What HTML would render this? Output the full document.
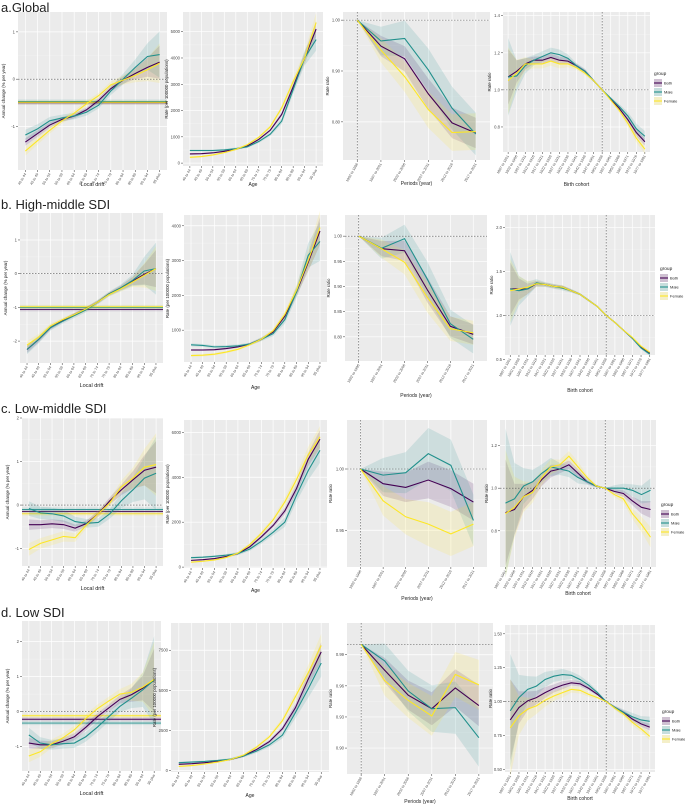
<!DOCTYPE html>
<html><head><meta charset="utf-8"><style>
html,body{margin:0;padding:0;background:#fff;}
svg{display:block;font-family:"Liberation Sans",sans-serif;}
</style></head><body>
<svg id="fig" width="685" height="807" viewBox="0 0 685 807" xmlns="http://www.w3.org/2000/svg"></svg>
<script>
const ageCats = ["40 to 44","45 to 49","50 to 54","55 to 59","60 to 64","65 to 69","70 to 74","75 to 79","80 to 84","85 to 89","90 to 94","95 plus"];
const periodCats = ["1992 to 1996","1997 to 2001","2002 to 2006","2007 to 2011","2012 to 2016","2017 to 2021"];
const cohortCats = ["1897 to 1901","1902 to 1906","1907 to 1911","1912 to 1916","1917 to 1921","1922 to 1926","1927 to 1931","1932 to 1936","1937 to 1941","1942 to 1946","1947 to 1951","1952 to 1956","1957 to 1961","1962 to 1966","1967 to 1971","1972 to 1976","1977 to 1981"];
const groups = ["Both","Male","Female"];

// a. Global
const a1Both=[-1.33,-1.15,-0.97,-0.85,-0.78,-0.65,-0.45,-0.2,-0.02,0.12,0.25,0.36];
const a1Male=[-1.18,-1.05,-0.88,-0.82,-0.78,-0.7,-0.55,-0.25,0,0.25,0.48,0.52];
const a1Female=[-1.52,-1.3,-1.08,-0.88,-0.72,-0.52,-0.35,-0.12,-0.02,0.08,0.2,0.34];
const a1Band=[0.08,0.07,0.06,0.05,0.05,0.05,0.05,0.06,0.08,0.12,0.2,0.35];
const a1Net=[-0.5,-0.47,-0.49];
const a2Both=[350,360,390,450,530,650,900,1250,1850,2900,4000,5100];
const a2Male=[480,480,480,500,550,620,820,1100,1600,2800,4000,4700];
const a2Female=[220,250,310,400,520,700,980,1380,2100,3100,4000,5350];
const a2Band=[30,30,30,30,30,30,40,50,80,120,200,300];
const a3Both=[1.0,0.949,0.924,0.855,0.798,0.778];
const a3Male=[1.0,0.959,0.964,0.902,0.827,0.776];
const a3Female=[1.0,0.941,0.889,0.824,0.779,0.781];
const a3Band=[0,0.02,0.025,0.03,0.03,0.03];
const a4Both=[1.07,1.1,1.14,1.16,1.16,1.175,1.16,1.155,1.13,1.1,1.05,1.0,0.95,0.9,0.84,0.77,0.72];
const a4Male=[1.07,1.075,1.13,1.16,1.18,1.2,1.19,1.17,1.13,1.1,1.05,1.0,0.955,0.91,0.86,0.79,0.75];
const a4Female=[1.05,1.09,1.14,1.14,1.14,1.155,1.14,1.14,1.12,1.09,1.05,1.0,0.945,0.89,0.82,0.74,0.68];
const a4Band=[0.15,0.06,0.03,0.02,0.02,0.02,0.02,0.015,0.01,0.01,0.005,0,0.005,0.01,0.015,0.02,0.02];
// b. High-middle SDI
const b1Both=[-2.25,-1.95,-1.6,-1.4,-1.22,-1.05,-0.85,-0.6,-0.42,-0.22,-0.02,0.15];
const b1Male=[-2.25,-1.95,-1.6,-1.42,-1.25,-1.08,-0.85,-0.6,-0.42,-0.2,0.08,0.15];
const b1Female=[-2.12,-1.88,-1.55,-1.37,-1.22,-1.05,-0.85,-0.62,-0.45,-0.25,-0.05,0.15];
const b1Band=[0.1,0.08,0.06,0.05,0.05,0.05,0.05,0.05,0.07,0.12,0.3,0.55];
const b1Net=[-1.06,-1.0,-0.98];
const b2Both=[430,430,440,470,520,600,740,950,1400,2100,2950,3850];
const b2Male=[580,560,520,530,550,600,740,900,1300,2100,3150,3550];
const b2Female=[270,280,310,370,450,580,740,980,1450,2150,3000,3950];
const b2Band=[30,30,30,30,30,30,40,50,80,120,250,400];
const b3Both=[1.0,0.975,0.971,0.893,0.821,0.805];
const b3Male=[1.0,0.976,0.995,0.914,0.826,0.795];
const b3Female=[1.0,0.975,0.948,0.878,0.816,0.808];
const b3Band=[0,0.015,0.02,0.025,0.02,0.02];
const b4Both=[1.3,1.3,1.3,1.36,1.35,1.33,1.32,1.28,1.24,1.17,1.1,1.0,0.92,0.83,0.74,0.64,0.57];
const b4Male=[1.3,1.28,1.3,1.37,1.35,1.33,1.31,1.28,1.24,1.17,1.1,1.0,0.92,0.83,0.74,0.63,0.56];
const b4Female=[1.28,1.3,1.32,1.36,1.35,1.33,1.32,1.28,1.24,1.17,1.1,1.0,0.92,0.83,0.75,0.65,0.58];
const b4Band=[0.3,0.12,0.06,0.03,0.02,0.02,0.02,0.015,0.01,0.01,0.005,0,0.005,0.005,0.01,0.01,0.015];
// c. Low-middle SDI
const c1Both=[-0.45,-0.45,-0.43,-0.45,-0.53,-0.42,-0.2,0.1,0.35,0.58,0.8,0.87];
const c1Male=[-0.08,-0.18,-0.2,-0.25,-0.38,-0.42,-0.4,-0.2,0.1,0.35,0.62,0.73];
const c1Female=[-1.02,-0.88,-0.8,-0.72,-0.75,-0.45,-0.2,0.05,0.42,0.62,0.87,0.93];
const c1Band=[0.12,0.1,0.1,0.1,0.08,0.07,0.07,0.08,0.12,0.2,0.35,0.6];
const c1Net=[-0.15,-0.1,-0.2];
const c2Both=[300,330,380,470,600,900,1350,1850,2500,3500,4800,5700];
const c2Male=[420,440,480,530,600,800,1150,1550,2000,3200,4300,5200];
const c2Female=[220,260,320,430,620,1000,1500,2100,2900,3900,5000,5800];
const c2Band=[30,30,30,40,50,60,80,100,150,200,300,400];
const c3Both=[1.0,0.988,0.985,0.991,0.984,0.973];
const c3Male=[1.0,0.995,0.997,1.0125,1.003,0.958];
const c3Female=[1.0,0.974,0.961,0.955,0.947,0.955];
const c3Band=[0,0.01,0.012,0.015,0.015,0.015];
const c4Both=[0.885,0.9,0.96,0.99,1.04,1.08,1.09,1.11,1.07,1.03,1.01,1.0,0.985,0.975,0.94,0.91,0.9];
const c4Male=[0.93,0.95,1.01,1.03,1.07,1.1,1.09,1.08,1.05,1.03,1.01,1.0,1.0,1.0,0.99,0.97,0.99];
const c4Female=[0.88,0.91,0.96,0.98,1.05,1.1,1.11,1.15,1.1,1.05,1.01,1.0,0.97,0.95,0.88,0.83,0.77];
const c4Band=[0.25,0.12,0.06,0.04,0.03,0.03,0.02,0.02,0.02,0.01,0.005,0,0.01,0.015,0.02,0.03,0.04];
// d. Low SDI
const d1Both=[-0.9,-0.95,-0.95,-0.85,-0.72,-0.45,-0.15,0.1,0.35,0.48,0.67,0.9];
const d1Male=[-0.67,-0.9,-0.95,-0.92,-0.9,-0.72,-0.45,-0.15,0.15,0.38,0.62,0.9];
const d1Female=[-1.27,-1.15,-0.92,-0.75,-0.52,-0.2,0.08,0.3,0.5,0.55,0.7,0.92];
const d1Band=[0.15,0.12,0.1,0.1,0.1,0.1,0.1,0.1,0.12,0.2,0.35,0.9];
const d1Net=[-0.22,-0.33,-0.12];
const d2Both=[380,420,480,560,680,900,1300,1800,2600,3900,5700,7400];
const d2Male=[480,520,560,620,700,900,1200,1600,2200,3600,5100,6700];
const d2Female=[250,300,400,520,680,950,1450,2100,3100,4600,6100,7800];
const d2Band=[40,40,40,40,50,60,80,100,150,250,400,600];
const d3Both=[1.0,0.975,0.951,0.938,0.958,0.941];
const d3Male=[1.0,0.984,0.955,0.938,0.939,0.910];
const d3Female=[1.0,0.965,0.946,0.931,0.971,0.961];
const d3Band=[0,0.012,0.014,0.016,0.018,0.02];
const d4Both=[0.864,0.956,1.005,1.029,1.066,1.097,1.121,1.138,1.131,1.097,1.053,1.0,0.956,0.92,0.871,0.835,0.811];
const d4Male=[0.932,1.029,1.09,1.114,1.163,1.187,1.199,1.194,1.163,1.121,1.066,1.0,0.956,0.92,0.888,0.864,0.854];
const d4Female=[0.806,0.896,0.944,0.968,1.01,1.041,1.066,1.09,1.083,1.053,1.029,1.0,0.951,0.908,0.847,0.799,0.743];
const d4Band=[0.3,0.12,0.07,0.05,0.04,0.03,0.03,0.02,0.02,0.015,0.01,0,0.01,0.015,0.02,0.02,0.025];

const COLORS={Both:"#440154",Male:"#21908c",Female:"#fde725"};
const BANDMUL={Both:1,Male:1.4,Female:1.2};
const NS="http://www.w3.org/2000/svg";
const svg=document.getElementById("fig");
function mk(tag,attrs,parent){const e=document.createElementNS(NS,tag);for(const k in attrs)e.setAttribute(k,attrs[k]);(parent||svg).appendChild(e);return e;}

function panel(id,box,ymin,ymax,ticks,tickLabels,cats,series,band,opt){
  const g=mk("g",{});
  
  
  const n=cats.length;
  const xs=i=>box.x+(i+0.6)/(n-1+1.2)*box.w;
  const ys=v=>box.y+box.h-(v-ymin)/(ymax-ymin)*box.h;
  const bg=mk("rect",{x:box.x,y:box.y,width:box.w,height:box.h,fill:"#ebebeb"},g);
  
  
  // minor grid
  for(let k=0;k<ticks.length-1;k++){const m=(ticks[k]+ticks[k+1])/2;mk("line",{x1:box.x,x2:box.x+box.w,y1:ys(m),y2:ys(m),stroke:"#f5f5f5","stroke-width":0.4},g);}
  ticks.forEach((t,k)=>{
    const y=ys(t);
    mk("line",{x1:box.x,x2:box.x+box.w,y1:y,y2:y,stroke:"#fff","stroke-width":0.7},g);
    mk("line",{x1:box.x-2,x2:box.x,y1:y,y2:y,stroke:"#333","stroke-width":0.5},g);
    const tl=mk("text",{x:box.x-3,y:y+1.5,"font-size":4.2,fill:"#4d4d4d","text-anchor":"end"},g);
    tl.textContent=tickLabels[k];
    
    
  });
  cats.forEach((c,i)=>{
    const x=xs(i);
    mk("line",{x1:x,x2:x,y1:box.y,y2:box.y+box.h,stroke:"#fff","stroke-width":0.7},g);
    mk("line",{x1:x,x2:x,y1:box.y+box.h,y2:box.y+box.h+2,stroke:"#333","stroke-width":0.5},g);
    const tx=mk("text",{x:x+1,y:box.y+box.h+4,"font-size":3.6,fill:"#4d4d4d","text-anchor":"end",transform:`rotate(-60 ${x+1} ${box.y+box.h+4})`},g);
    tx.textContent=c;
    
    
  });
  // net drift lines
  if(opt.net){
    groups.forEach((gname,k)=>{
      const y=ys(opt.net[k]);
      mk("rect",{x:box.x,y:y-2,width:box.w,height:4,fill:COLORS[gname],opacity:0.12},g);
      const l=mk("line",{x1:box.x,x2:box.x+box.w,y1:y,y2:y,stroke:COLORS[gname],"stroke-width":0.9},g);
      
      
    });
  }
  // bands
  series.forEach((vals,k)=>{
    const gname=groups[k];const m=BANDMUL[gname];
    let pts=[];
    for(let i=0;i<n;i++)pts.push(xs(i)+","+ys(vals[i]+band[i]*m));
    for(let i=n-1;i>=0;i--)pts.push(xs(i)+","+ys(vals[i]-band[i]*m));
    const p=mk("polygon",{points:pts.join(" "),fill:COLORS[gname],opacity:0.15},g);
    
    
  });
  // reference lines
  if(opt.href!==undefined){
    const y=ys(opt.href);
    mk("line",{x1:box.x,x2:box.x+box.w,y1:y,y2:y,stroke:"#555","stroke-width":0.6,"stroke-dasharray":"1.5,1.5"},g);
  }
  if(opt.vref!==undefined){
    const x=xs(opt.vref);
    mk("line",{x1:x,x2:x,y1:box.y,y2:box.y+box.h,stroke:"#555","stroke-width":0.6,"stroke-dasharray":"1.5,1.5"},g);
  }
  // lines
  series.forEach((vals,k)=>{
    const gname=groups[k];
    const pts=vals.map((v,i)=>xs(i)+","+ys(v)).join(" ");
    const l=mk("polyline",{points:pts,fill:"none",stroke:COLORS[gname],"stroke-width":1.1},g);
    
    
  });
  const xt=mk("text",{x:box.x+box.w/2,y:opt.xty,"font-size":opt.xfs||5,fill:"#222","text-anchor":"middle"},g);
  xt.textContent=opt.xt;
  
  
  const yx=box.x-(opt.ytoff||13), yy=box.y+box.h/2;
  const yt=mk("text",{x:yx,y:yy,"font-size":4.4,fill:"#222","text-anchor":"middle",transform:`rotate(-90 ${yx} ${yy})`},g);
  yt.textContent=opt.yt;
  
  
}

function legend(id,x,y){
  const g=mk("g",{});
  
  
  const t=mk("text",{x:x,y:y,"font-size":4.8,fill:"#222"},g);t.textContent="group";
  groups.forEach((gname,k)=>{
    const yy=y+4+k*9;
    mk("rect",{x:x,y:yy,width:8,height:8,fill:"#f2f2f2"},g);
    mk("rect",{x:x,y:yy,width:8,height:8,fill:COLORS[gname],opacity:0.2},g);
    mk("line",{x1:x,x2:x+8,y1:yy+4,y2:yy+4,stroke:COLORS[gname],"stroke-width":1.1},g);
    const lt=mk("text",{x:x+10,y:yy+5.5,"font-size":4,fill:"#222"},g);
    lt.textContent=gname;
    
    
  });
}

function title(txt,y,id){
  const t=mk("text",{x:1,y:y,"font-size":13,fill:"#222"});
  t.textContent=txt;
  
  
}

const YD="Annual change (% per year)", YA="Rate (per 100000 populations)", YR="Rate ratio";
// Row a
title("a.Global",12,"title-global");
panel("a-drift",{x:18,y:12,w:149,h:158},-1.92,1.42,[-1,0,1],["-1","0","1"],ageCats,[a1Both,a1Male,a1Female],a1Band,{net:a1Net,href:0,xt:"Local drift",xty:186,xfs:5.5,yt:YD});
panel("a-age",{x:183,y:12,w:140,h:154},-110,5750,[0,1000,2000,3000,4000,5000],["0","1000","2000","3000","4000","5000"],ageCats,[a2Both,a2Male,a2Female],a2Band,{xt:"Age",xty:186,yt:YA,ytoff:15});
panel("a-period",{x:343,y:12,w:147,h:148},0.725,1.016,[0.8,0.9,1.0],["0.80","0.90","1.00"],periodCats,[a3Both,a3Male,a3Female],a3Band,{href:1,vref:0,xt:"Periods (year)",xty:185,yt:YR,ytoff:14});
panel("a-cohort",{x:503,y:12,w:147,h:140},0.665,1.42,[0.8,1.0,1.2,1.4],["0.8","1.0","1.2","1.4"],cohortCats,[a4Both,a4Male,a4Female],a4Band,{href:1,vref:11,xt:"Birth cohort",xty:186,yt:YR,ytoff:12});
legend("a",654,75);
// Row b
title("b. High-middle  SDI",209,"title-high-middle-sdi");
panel("b-drift",{x:20,y:213,w:143,h:150},-2.65,1.8,[-2,-1,0,1],["-2","-1","0","1"],ageCats,[b1Both,b1Male,b1Female],b1Band,{net:b1Net,href:0,xt:"Local drift",xty:387,xfs:5.5,yt:YD});
panel("b-age",{x:184,y:215,w:143,h:147},85,4310,[1000,2000,3000,4000],["1000","2000","3000","4000"],ageCats,[b2Both,b2Male,b2Female],b2Band,{xt:"Age",xty:389,yt:YA,ytoff:15});
panel("b-period",{x:345,y:215,w:142,h:146},0.752,1.042,[0.80,0.85,0.90,0.95,1.00],["0.80","0.85","0.90","0.95","1.00"],periodCats,[b3Both,b3Male,b3Female],b3Band,{href:1,vref:0,xt:"Periods (year)",xty:397,yt:YR,ytoff:15});
panel("b-cohort",{x:505,y:215,w:150,h:140},0.55,2.14,[0.5,1.0,1.5,2.0],["0.5","1.0","1.5","2.0"],cohortCats,[b4Both,b4Male,b4Female],b4Band,{href:1,vref:11,xt:"Birth cohort",xty:392,yt:YR,ytoff:12});
legend("b",660,270);
// Row c
title("c. Low-middle  SDI",413,"title-low-middle-sdi");
panel("c-drift",{x:22,y:418,w:141,h:148},-1.4,2.0,[-1,0,1,2],["-1","0","1","2"],ageCats,[c1Both,c1Male,c1Female],c1Band,{net:c1Net,href:0,xt:"Local drift",xty:590,xfs:5.5,yt:YD});
panel("c-age",{x:184,y:420,w:143,h:148},-40,6550,[0,2000,4000,6000],["0","2000","4000","6000"],ageCats,[c2Both,c2Male,c2Female],c2Band,{xt:"Age",xty:592,yt:YA,ytoff:15});
panel("c-period",{x:347,y:420,w:140,h:147},0.92,1.04,[0.95,1.00],["0.95","1.00"],periodCats,[c3Both,c3Male,c3Female],c3Band,{href:1,vref:0,xt:"Periods (year)",xty:600,yt:YR,ytoff:15});
panel("c-cohort",{x:500,y:420,w:156,h:147},0.63,1.32,[0.8,1.0,1.2],["0.8","1.0","1.2"],cohortCats,[c4Both,c4Male,c4Female],c4Band,{href:1,vref:11,xt:"Birth cohort",xty:595,yt:YR,ytoff:12});
legend("c",661,506);
// Row d
title("d. Low SDI",617,"title-low-sdi");
panel("d-drift",{x:22,y:621,w:139,h:150},-1.7,2.59,[-1,0,1,2],["-1","0","1","2"],ageCats,[d1Both,d1Male,d1Female],d1Band,{net:d1Net,href:0,xt:"Local drift",xty:795,xfs:5.5,yt:YD});
panel("d-age",{x:171,y:623,w:158,h:149},-100,9200,[0,2500,5000,7500],["0","2500","5000","7500"],ageCats,[d2Both,d2Male,d2Female],d2Band,{xt:"Age",xty:797,yt:YA,ytoff:15});
panel("d-period",{x:347,y:623,w:146,h:151},0.875,1.0206,[0.90,0.93,0.96,0.99],["0.90","0.93","0.96","0.99"],periodCats,[d3Both,d3Male,d3Female],d3Band,{href:1,vref:0,xt:"Periods (year)",xty:803,yt:YR,ytoff:15});
panel("d-cohort",{x:505,y:625,w:150,h:147},0.48,1.565,[0.5,0.75,1.0,1.25,1.5],["0.50","0.75","1.00","1.25","1.50"],cohortCats,[d4Both,d4Male,d4Female],d4Band,{href:1,vref:11,xt:"Birth cohort",xty:800,yt:YR,ytoff:13});
legend("d",662,713);
</script>
</body></html>
